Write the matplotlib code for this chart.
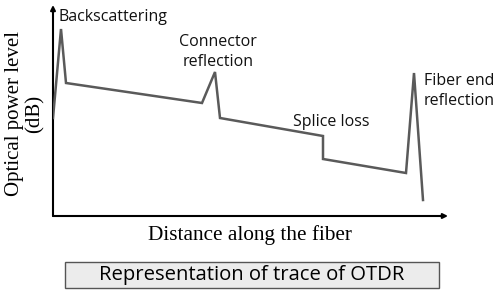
import matplotlib.pyplot as plt
from matplotlib.patches import FancyArrowPatch, Rectangle

# OTDR trace, arbitrary units (distance along fiber, power level)
distance = [0, 8, 13, 149, 162, 167, 270, 270, 353, 361, 370]
power = [98, 187, 133, 113, 144, 98, 80, 57, 43, 143, 16]

labels = ["Backscattering", "Connector\nreflection", "Splice loss", "Fiber end\nreflection"]
label_pos = [(5, 199), (165, 164), (240, 94), (371, 125)]
label_ha = ["left", "center", "left", "left"]

W, H = 500, 293
fig = plt.figure(figsize=(5, 2.93), dpi=100)
x0, y0, x1, y1 = 53, 216, 448, 5
ax = fig.add_axes([x0 / W, 1 - y0 / H, (x1 - x0) / W, (y0 - y1) / H])
ax.set_xlim(0, x1 - x0)
ax.set_ylim(0, y0 - y1)
ax.axis("off")

ax.plot(distance, power, color="#5a5a5a", lw=1.8, solid_joinstyle="miter")

for t, (xx, yy), ha in zip(labels, label_pos, label_ha):
    ax.text(xx, yy, t, ha=ha, va="center", fontsize=11.5, family="Open Sans",
            color="#111111", linespacing=1.4)

# axes arrows
ax.add_patch(FancyArrowPatch((0, 0), (0, y0 - y1), arrowstyle="-|>", mutation_scale=7,
                             color="black", lw=1.5, shrinkA=0, shrinkB=0, clip_on=False))
ax.add_patch(FancyArrowPatch((0, 0), (x1 - x0, 0), arrowstyle="-|>", mutation_scale=7,
                             color="black", lw=1.5, shrinkA=0, shrinkB=0, clip_on=False))

fig.text(250 / W, 1 - 235 / H, "Distance along the fiber", ha="center", va="center",
         fontsize=15.3, family="Liberation Serif")
fig.text(25 / W, 1 - 114 / H, "Optical power level\n(dB)", ha="center", va="center",
         rotation=90, fontsize=15, family="Liberation Serif", linespacing=1.1)

fig.patches.append(Rectangle((65 / W, 1 - 288 / H), (439 - 65) / W, (288 - 262) / H,
                             transform=fig.transFigure, facecolor="#ececec",
                             edgecolor="#555555", lw=1))
fig.text(252 / W, 1 - 275 / H, "Representation of trace of OTDR", ha="center", va="center",
         fontsize=14.6, family="Open Sans")

fig.savefig("out.png", dpi=100)
